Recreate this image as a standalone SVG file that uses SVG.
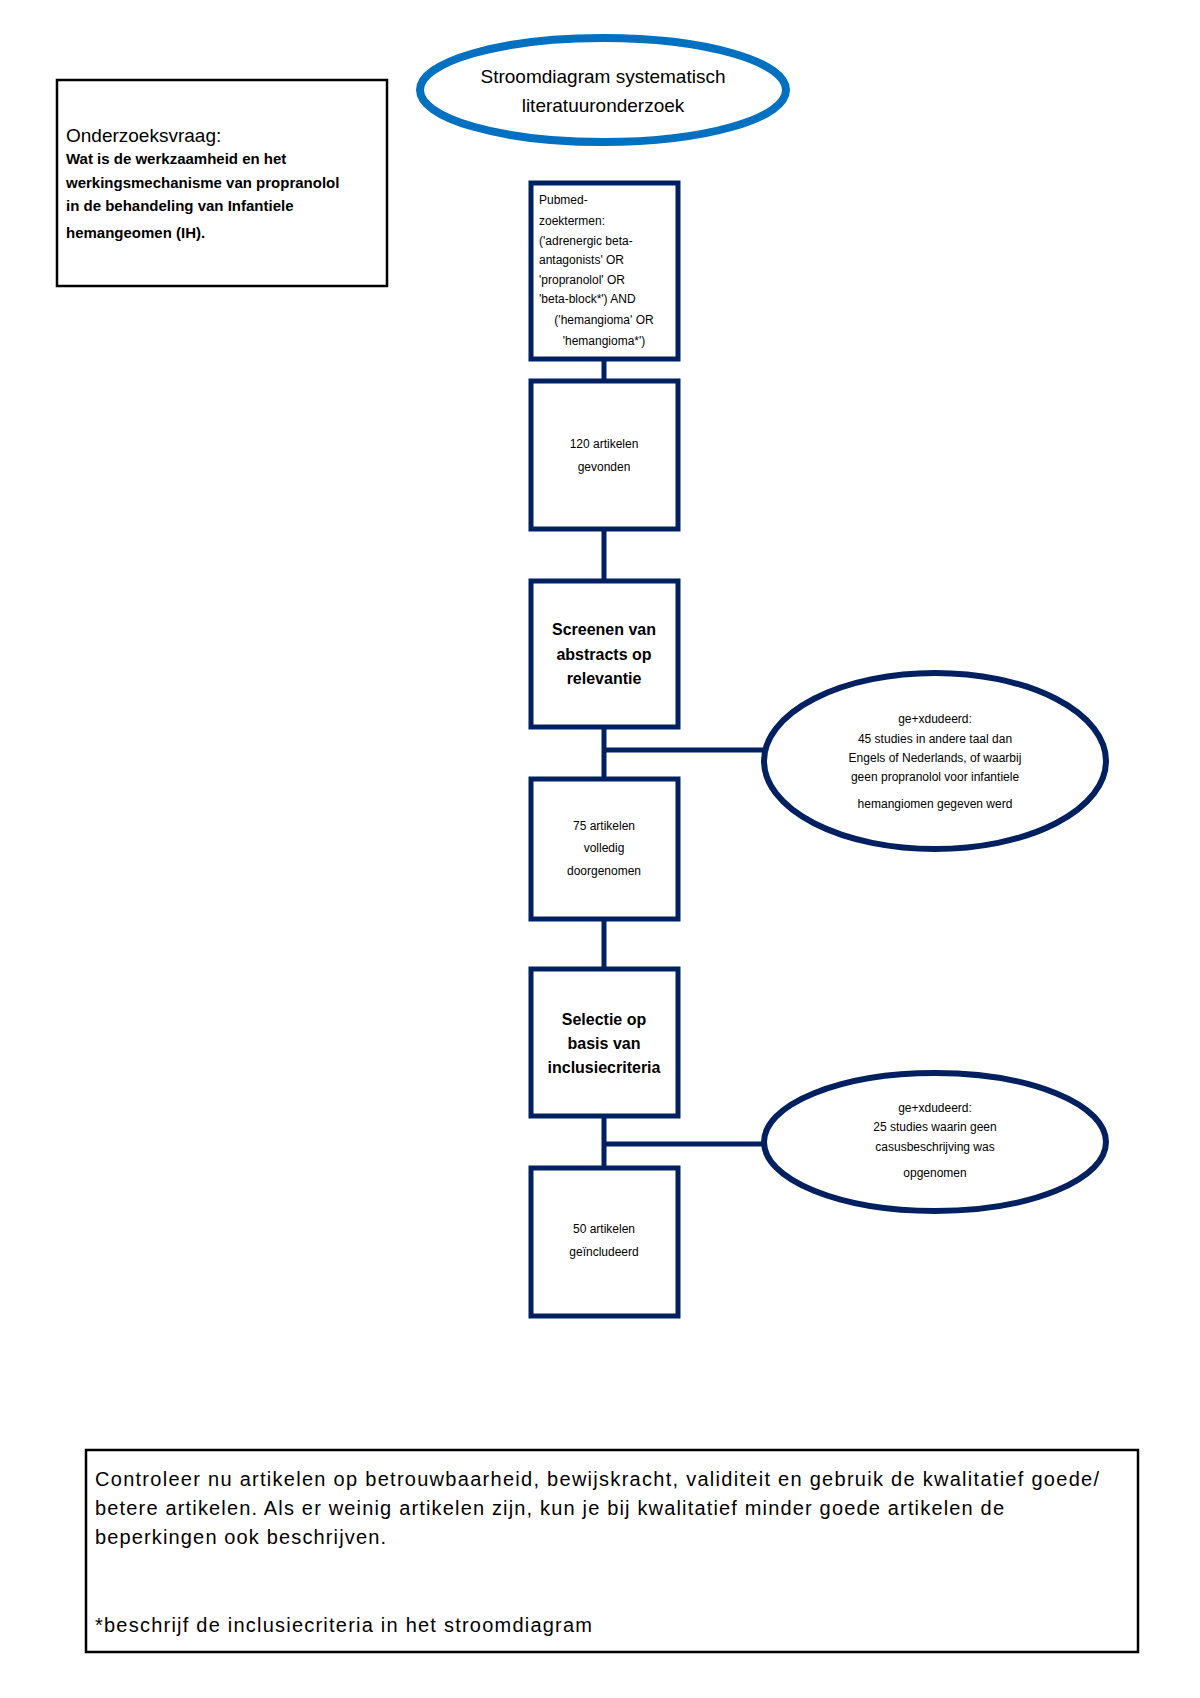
<svg xmlns="http://www.w3.org/2000/svg" width="1200" height="1698" viewBox="0 0 1200 1698">
<style>
text{font-family:"Liberation Sans",Arial,sans-serif;fill:#000}
.box{fill:#fff;stroke:#002060;stroke-width:5}
.ell{fill:#fff;stroke:#002060;stroke-width:6}
.con{stroke:#002060;stroke-width:5;fill:none}
.s{font-size:12px;text-anchor:middle}
.b{font-size:16px;font-weight:bold;text-anchor:middle}
</style>
<rect width="1200" height="1698" fill="#fff"/>
<g id="connectors">
<line class="con" x1="604" y1="359" x2="604" y2="1168"/>
<line class="con" x1="604" y1="750" x2="766" y2="750"/>
<line class="con" x1="604" y1="1144" x2="766" y2="1144"/>
</g>
<g id="vraag">
<rect x="57" y="80" width="330" height="206" fill="#fff" stroke="#000" stroke-width="2.5"/>
<text x="66" y="142" font-size="19">Onderzoeksvraag:</text>
<text x="66" y="164" font-size="15" font-weight="bold">Wat is de werkzaamheid en het</text>
<text x="66" y="188" font-size="15" font-weight="bold">werkingsmechanisme van propranolol</text>
<text x="66" y="211" font-size="15" font-weight="bold">in de behandeling van Infantiele</text>
<text x="66" y="238" font-size="15" font-weight="bold">hemangeomen (IH).</text>
</g>
<g id="title">
<ellipse cx="603" cy="90" rx="183" ry="52" fill="#fff" stroke="#0070C0" stroke-width="8"/>
<text x="603" y="83" font-size="19" text-anchor="middle">Stroomdiagram systematisch</text>
<text x="603" y="112" font-size="19" text-anchor="middle">literatuuronderzoek</text>
</g>
<g id="n1">
<rect class="box" x="531" y="183" width="147" height="176"/>
<text x="539" y="204" font-size="12">Pubmed-</text>
<text x="539" y="225" font-size="12">zoektermen:</text>
<text x="539" y="245" font-size="12">('adrenergic beta-</text>
<text x="539" y="264" font-size="12">antagonists' OR</text>
<text x="539" y="284" font-size="12">'propranolol' OR</text>
<text x="539" y="303" font-size="12">'beta-block*') AND</text>
<text x="604" y="324" class="s">('hemangioma' OR</text>
<text x="604" y="345" class="s">'hemangioma*')</text>
</g>
<g id="n2">
<rect class="box" x="531" y="381" width="147" height="148"/>
<text x="604" y="448" class="s">120 artikelen</text>
<text x="604" y="471" class="s">gevonden</text>
</g>
<g id="n3">
<rect class="box" x="531" y="581" width="147" height="146"/>
<text x="604" y="635" class="b">Screenen van</text>
<text x="604" y="660" class="b">abstracts op</text>
<text x="604" y="684" class="b">relevantie</text>
</g>
<g id="e1">
<ellipse class="ell" cx="935" cy="761" rx="171" ry="88"/>
<text x="935" y="723" class="s">ge+xdudeerd:</text>
<text x="935" y="743" class="s">45 studies in andere taal dan</text>
<text x="935" y="762" class="s">Engels of Nederlands, of waarbij</text>
<text x="935" y="781" class="s">geen propranolol voor infantiele</text>
<text x="935" y="808" class="s">hemangiomen gegeven werd</text>
</g>
<g id="n4">
<rect class="box" x="531" y="779" width="147" height="140"/>
<text x="604" y="830" class="s">75 artikelen</text>
<text x="604" y="852" class="s">volledig</text>
<text x="604" y="875" class="s">doorgenomen</text>
</g>
<g id="n5">
<rect class="box" x="531" y="969" width="147" height="147"/>
<text x="604" y="1025" class="b">Selectie op</text>
<text x="604" y="1049" class="b">basis van</text>
<text x="604" y="1073" class="b">inclusiecriteria</text>
</g>
<g id="e2">
<ellipse class="ell" cx="935" cy="1142" rx="171" ry="69"/>
<text x="935" y="1112" class="s">ge+xdudeerd:</text>
<text x="935" y="1131" class="s">25 studies waarin geen</text>
<text x="935" y="1151" class="s">casusbeschrijving was</text>
<text x="935" y="1177" class="s">opgenomen</text>
</g>
<g id="n6">
<rect class="box" x="531" y="1168" width="147" height="148"/>
<text x="604" y="1233" class="s">50 artikelen</text>
<text x="604" y="1256" class="s">geïncludeerd</text>
</g>
<g id="note">
<rect x="86" y="1450" width="1052" height="202" fill="#fff" stroke="#000" stroke-width="2.5"/>
<text x="95" y="1486" font-size="20" textLength="1004" lengthAdjust="spacing">Controleer nu artikelen op betrouwbaarheid, bewijskracht, validiteit en gebruik de kwalitatief goede/</text>
<text x="95" y="1515" font-size="20" textLength="909" lengthAdjust="spacing">betere artikelen. Als er weinig artikelen zijn, kun je bij kwalitatief minder goede artikelen de</text>
<text x="95" y="1544" font-size="20" textLength="291" lengthAdjust="spacing">beperkingen ook beschrijven.</text>
<text x="95" y="1632" font-size="20" textLength="497" lengthAdjust="spacing">*beschrijf de inclusiecriteria in het stroomdiagram</text>
</g>
</svg>
